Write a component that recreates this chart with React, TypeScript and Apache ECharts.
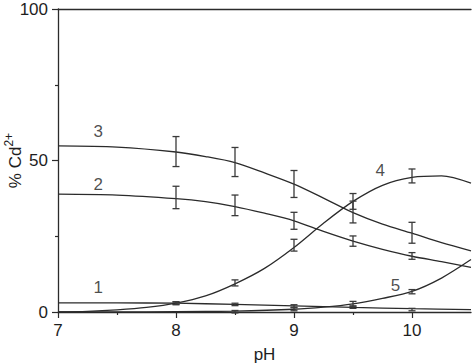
import React, { useEffect, useRef } from "react";
import * as echarts from "echarts";

// Fitted curves: [pH, % Cd2+]
const curve1: number[][] = [[7, 3.0], [7.5, 3.0], [8, 2.9], [8.5, 2.5], [9, 2.0], [9.5, 1.5], [10, 1.1], [10.5, 0.8]];
const curve2: number[][] = [
  [7, 38.9], [7.5, 38.6], [8, 37.4], [8.25, 36.4], [8.5, 34.8], [8.75, 32.6], [9, 30.1],
  [9.25, 26.6], [9.5, 23.4], [9.75, 20.7], [10, 18.4], [10.25, 16.6], [10.5, 14.7],
];
const curve3: number[][] = [
  [7, 54.8], [7.5, 54.4], [8, 52.8], [8.25, 51.3], [8.5, 49.3], [8.75, 45.9], [9, 42.2],
  [9.25, 37.6], [9.5, 32.8], [9.75, 29.0], [10, 26.0], [10.25, 22.9], [10.5, 20.2],
];
const curve4: number[][] = [
  [7, 0], [7.25, 0.2], [7.5, 0.7], [7.75, 1.5], [8, 2.9], [8.25, 5.3], [8.5, 9.3], [8.75, 14.4], [9, 21.3],
  [9.25, 29.3], [9.5, 36.5], [9.75, 41.8], [10, 44.4], [10.25, 44.9], [10.5, 42.5],
];
const curve5: number[][] = [
  [7, 0], [7.5, 0], [8, 0.1], [8.5, 0.3], [9, 0.9], [9.25, 1.6], [9.5, 2.7], [9.75, 4.5],
  [10, 6.8], [10.25, 11.2], [10.5, 17.3],
];

// Measured points with error bars: [pH, low, high]
const bars1: number[][] = [[8, 2.5, 3.3], [8.5, 2.1, 2.9], [9, 1.6, 2.4], [9.5, 1.2, 2.0], [10, 0.4, 1.2]];
const bars2: number[][] = [[8, 34.1, 41.5], [8.5, 31.8, 38.6], [9, 27.3, 32.9], [9.5, 21.7, 25.1], [10, 17.4, 19.6]];
const bars3: number[][] = [[8, 48.0, 57.9], [8.5, 44.7, 54.3], [9, 37.8, 46.7], [9.5, 29.4, 36.6], [10, 22.7, 29.6]];
const bars4: number[][] = [[8, 2.4, 3.4], [8.5, 8.6, 10.6], [9, 20.1, 24.0], [9.5, 33.9, 39.1], [10, 42.6, 47.2]];
const bars5: number[][] = [[8.5, -0.3, 0.5], [9, 0.4, 1.4], [9.5, 1.9, 3.5], [10, 6.0, 7.4]];

// Curve labels: [pH, value, name]
const curveLabels: (number | string)[][] = [
  [7.34, 8.2, "1"],
  [7.34, 42.0, "2"],
  [7.34, 59.5, "3"],
  [9.73, 46.6, "4"],
  [9.86, 8.9, "5"],
];

const xMajorTicks = [7, 8, 9, 10];
const xMinorTicks = [7.5, 8.5, 9.5];

const LINE = "#2b2b2b";
const TEXT = "#1e1e1e";
const FONT = "Liberation Sans";

function errorBarSeries(data: number[][]) {
  return {
    type: "custom",
    xAxisIndex: 0,
    yAxisIndex: 0,
    silent: true,
    z: 3,
    encode: { x: 0, y: [1, 2] },
    data,
    renderItem: (params: any, api: any) => {
      const x = api.value(0);
      const lo = api.coord([x, api.value(1)]);
      const hi = api.coord([x, api.value(2)]);
      const cap = 3.5;
      const style = { stroke: "#3a3a3a", lineWidth: 1.3 };
      return {
        type: "group",
        children: [
          { type: "line", shape: { x1: lo[0], y1: lo[1], x2: hi[0], y2: hi[1] }, style },
          { type: "line", shape: { x1: lo[0] - cap, y1: lo[1], x2: lo[0] + cap, y2: lo[1] }, style },
          { type: "line", shape: { x1: hi[0] - cap, y1: hi[1], x2: hi[0] + cap, y2: hi[1] }, style },
        ],
      };
    },
  };
}

function curveSeries(data: number[][]) {
  return {
    type: "line",
    xAxisIndex: 0,
    yAxisIndex: 0,
    data,
    smooth: 0.3,
    symbol: "none",
    lineStyle: { color: LINE, width: 1.3 },
    z: 2,
  };
}

export default function App() {
  const ref = useRef<HTMLDivElement>(null);

  useEffect(() => {
    document.body.style.margin = "0";
    const chart = echarts.init(ref.current!, null, { renderer: "svg" });
    chart.setOption({
      animation: false,
      backgroundColor: "#ffffff",
      grid: { left: 58, right: 3, top: 9, bottom: 51, containLabel: false, outerBoundsMode: "none" },
      xAxis: [
        {
          type: "value",
          min: 7,
          max: 10.5,
          position: "bottom",
          name: "pH",
          nameLocation: "middle",
          nameGap: 34,
          nameMoveOverlap: false,
          nameTextStyle: { fontFamily: FONT, fontSize: 17, color: TEXT },
          axisLine: { show: true, lineStyle: { color: LINE, width: 1.3 } },
          axisTick: { show: true, customValues: xMajorTicks, length: 6, lineStyle: { color: LINE, width: 1.2 } },
          axisLabel: { customValues: xMajorTicks, margin: 10, fontFamily: FONT, fontSize: 17, color: TEXT },
          splitLine: { show: false },
        },
        {
          type: "value",
          min: 7,
          max: 10.5,
          position: "bottom",
          axisLine: { show: false },
          axisTick: { show: true, customValues: xMinorTicks, length: 3, lineStyle: { color: LINE, width: 1.2 } },
          axisLabel: { show: false },
          splitLine: { show: false },
        },
        {
          type: "value",
          min: 7,
          max: 10.5,
          position: "top",
          axisLine: { show: true, lineStyle: { color: LINE, width: 1.3 } },
          axisTick: { show: false },
          axisLabel: { show: false },
          splitLine: { show: false },
        },
      ],
      yAxis: [
        {
          type: "value",
          min: 0,
          max: 100,
          interval: 50,
          name: "{a|% Cd}{s|2+}",
          nameLocation: "middle",
          nameGap: 31,
          nameMoveOverlap: false,
          nameTextStyle: {
            rich: {
              a: { fontFamily: FONT, fontSize: 17, color: TEXT, lineHeight: 24 },
              s: { fontFamily: FONT, fontSize: 12, color: TEXT, verticalAlign: "top", lineHeight: 24, padding: [0, 0, 8, 0] },
            },
          },
          axisLine: { show: true, lineStyle: { color: LINE, width: 1.3 } },
          axisTick: { show: true, length: 6, lineStyle: { color: LINE, width: 1.2 } },
          minorTick: { show: true, splitNumber: 2, length: 3, lineStyle: { color: LINE, width: 1.2 } },
          axisLabel: { margin: 10, fontFamily: FONT, fontSize: 17, color: TEXT },
          splitLine: { show: false },
        },
      ],
      series: [
        curveSeries(curve1),
        curveSeries(curve2),
        curveSeries(curve3),
        curveSeries(curve4),
        curveSeries(curve5),
        errorBarSeries(bars1),
        errorBarSeries(bars2),
        errorBarSeries(bars3),
        errorBarSeries(bars4),
        errorBarSeries(bars5),
        {
          type: "scatter",
          xAxisIndex: 0,
          yAxisIndex: 0,
          symbolSize: 0,
          silent: true,
          data: curveLabels.map((d) => ({ value: [d[0], d[1]], name: d[2] })),
          label: {
            show: true,
            position: "inside",
            formatter: (p: any) => p.name,
            fontFamily: FONT,
            fontSize: 17,
            color: TEXT,
          },
        },
      ],
    });
    return () => chart.dispose();
  }, []);

  return <div ref={ref} style={{ width: 474, height: 363 }} />;
}
